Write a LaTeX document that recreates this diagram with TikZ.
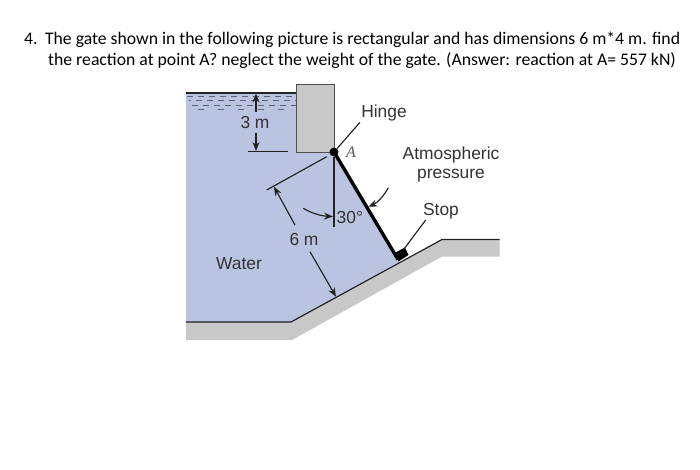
\documentclass[tikz,border=0pt]{standalone}
\usepackage{fontspec}
\setmainfont{Carlito}
\newfontfamily\labelfont{Liberation Sans}
\newfontfamily\serifit{Liberation Serif}
\usetikzlibrary{arrows.meta}
\definecolor{waterblue}{HTML}{BAC3E0}
\definecolor{groundgray}{HTML}{C8C8C8}
\definecolor{inkline}{HTML}{222222}
\definecolor{labelink}{HTML}{333333}
\tikzset{
  x=1pt,y=-1pt,
  question/.style={anchor=base west,inner sep=0,font=\fontsize{17.7}{20}\selectfont,text=black},
  lbl/.style={inner sep=0,font=\labelfont\fontsize{17.4}{20}\selectfont,text=labelink},
  dimline/.style={draw=inkline,line width=1.15pt},
  dimarrow/.style={draw=inkline,line width=1.15pt,-{Stealth[length=9pt,width=7pt]}},
  surf/.style={draw=inkline!60!waterblue,line width=0.9pt,dash pattern=on 6pt off 5pt},
}
\begin{document}
\begin{tikzpicture}
\useasboundingbox (0,0) rectangle (700,469);
\fill[white] (0,0) rectangle (700,469);
% text
\node[question] (q1) at (24,44) {4.\hspace{0.42em}The gate shown in the following picture is rectangular and has dimensions 6 m*4 m. find};
\node[question] (q2) at (48,65) {the reaction at point A? neglect the weight of the gate. (Answer: reaction at A= 557 kN)};
% ground
\fill[groundgray] (186,322) -- (291,322) -- (442,239.5) -- (499.5,239.5) -- (499.5,256.5) -- (442,256.5) -- (292,340) -- (186,340) -- cycle;
% water
\fill[waterblue] (186,93) -- (296,93) -- (296,152) -- (334,152) -- (399,262) -- (291,322) -- (186,322) -- cycle;
\draw[inkline,line width=1.2pt] (186,322) -- (291,322) -- (442,239.5) -- (499.5,239.5);
\draw[inkline,line width=1.6pt] (186,93) -- (296,93);
% surface dashes
\draw[surf] (187,96) -- (296,96);
\draw[surf,dash phase=4pt] (189,100.7) -- (296,100.7);
\draw[surf] (192,105) -- (296,105);
\draw[surf,dash pattern=on 6pt off 14pt] (198,109) -- (296,109);
% gate block
\node[draw=inkline!80,fill=groundgray,line width=1.2pt,minimum width=38.5pt,minimum height=68.5pt,inner sep=0,anchor=north west] (block) at (295.5,83.5) {};
% gate
\coordinate (A) at (334,152);
\coordinate (G) at (398,259.5);
\draw[black,line width=3.4pt] (A) -- (G);
\fill[black] (394.5,253) -- (405,247.5) -- (408.5,255) -- (398.5,261.5) -- cycle;
\node[circle,fill=black,minimum size=9pt,inner sep=0] (hinge) at (A) {};
% 3 m
\node[lbl] (three) at (255,123) {3 m};
\coordinate (s) at (256,93.5);
\coordinate (sS) at (256,112);
\coordinate (d) at (256,151);
\coordinate (dS) at (256,133);
\draw[dimarrow] (sS) -- (s);
\draw[dimarrow] (dS) -- (d);
\coordinate (t1) at (248,151.5);
\coordinate (t2) at (288,151.5);
\draw[dimline] (t1) -- (t2);
% 6 m
\coordinate (p1) at (326.7,156.7);
\coordinate (p2) at (266.7,190);
\draw[dimline] (p1) -- (p2);
\node[lbl] (six) at (304,240) {6 m};
\coordinate (up) at (274,186.7);
\coordinate (low) at (336,296.7);
\coordinate (upS) at (295,225);
\coordinate (lowS) at (310,251.7);
\draw[dimarrow] (upS) -- (up);
\draw[dimarrow] (lowS) -- (low);
% vertical & angle
\coordinate (vb) at (334,227);
\draw[dimline] (hinge.south) -- (vb);
\coordinate (angS) at (303.3,208.3);
\coordinate (angE) at (333,216.5);
\draw[dimarrow] (angS) .. controls (311,213) and (321,216) .. (angE);
\node[lbl,anchor=west] (thirty) at (336.5,218) {30\textdegree};
% labels
\node[lbl] (water) at (239,264) {Water};
\node[lbl] (hingeT) at (384,113) {Hinge};
\node[inner sep=0,font=\serifit\itshape\fontsize{16}{18}\selectfont,text=labelink!80] (Atext) at (351,152.5) {A};
\node[lbl] (atm) at (451,155) {Atmospheric};
\node[lbl] (pres) at (451,176) {pressure};
\node[lbl] (stop) at (441,211) {Stop};
% leaders
\coordinate (hS) at (360,122.3);
\draw[dimline] (hS) -- (hinge);
\coordinate (aS) at (388.3,187.7);
\coordinate (aE) at (368.3,206.7);
\draw[dimarrow] (aS) .. controls (384,196) and (377,203) .. (aE);
\coordinate (stS) at (425.7,220);
\coordinate (stE) at (404,249);
\draw[dimline] (stS) -- (stE);
\end{tikzpicture}
\end{document}
